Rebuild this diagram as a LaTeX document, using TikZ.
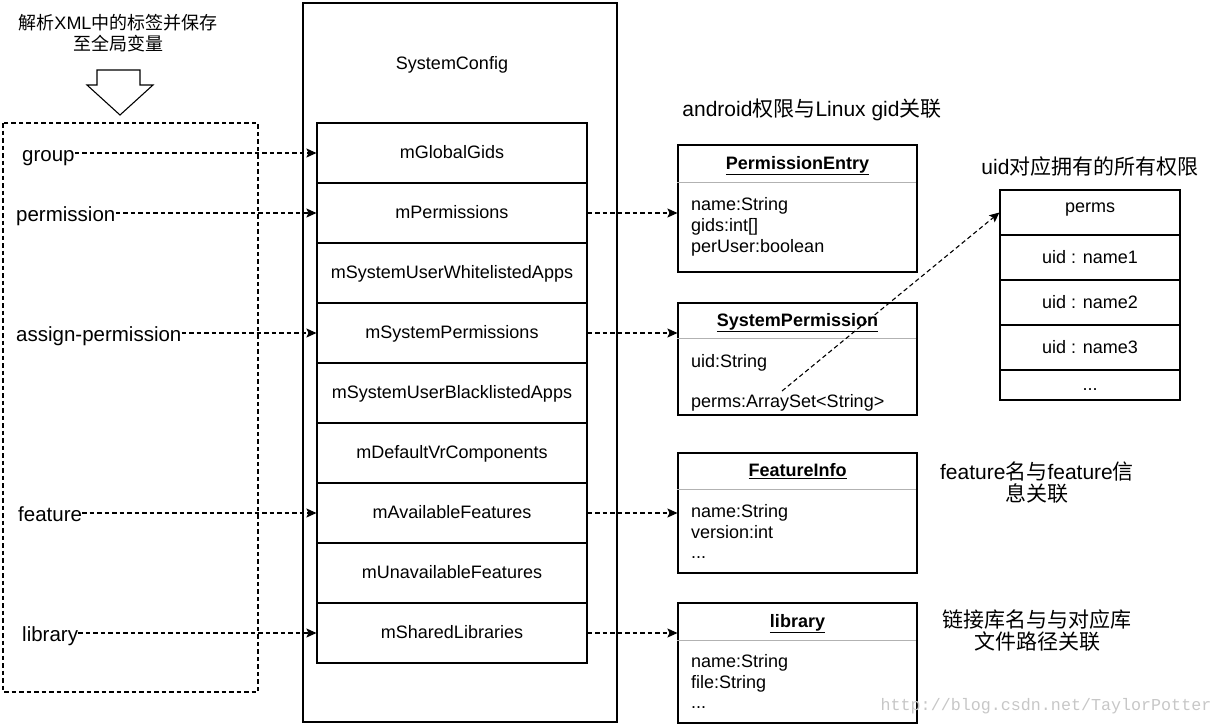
\documentclass[tikz,border=0pt]{standalone}
\usepackage{fontspec}
\setmainfont{Liberation Sans}
\newfontfamily\cjk{Noto Sans CJK SC}
\newfontfamily\wmfont{Liberation Mono}
\usetikzlibrary{arrows.meta}
\begin{document}
\begin{tikzpicture}[x=1pt,y=-1pt]
    \tikzstyle{box}=[draw, line width=1.1pt, inner sep=0pt]
    \tikzstyle{field}=[box, minimum width=270pt, minimum height=60pt, text height=14pt, text depth=3pt, font=\fontsize{18}{21}\selectfont]
    \tikzstyle{cell}=[box, minimum width=180pt, minimum height=45pt, text height=14pt, text depth=3pt, font=\fontsize{18}{21}\selectfont]
    \tikzstyle{cls}=[box, minimum width=239pt]
    \tikzstyle{lbl}=[inner sep=0pt, anchor=west, text height=18pt, text depth=1pt, font=\fontsize{20.5}{24}\selectfont]
    \tikzstyle{txt}=[inner sep=0pt, text height=14pt, text depth=3pt, font=\fontsize{18}{21}\selectfont]
    \tikzstyle{head}=[txt, font=\fontsize{18}{21}\selectfont\bfseries]
    \tikzstyle{note}=[inner sep=0pt, align=center, font=\fontsize{21}{22}\selectfont]
    \tikzstyle{sep}=[line width=1.3pt, black!30]
    \tikzstyle{dashline}=[line width=1.1pt, dash pattern=on 4.5pt off 3pt]
    \tikzstyle{link}=[dashline, -{Stealth[length=10pt,width=9pt,inset=2pt]}]

    \useasboundingbox (0,0) rectangle (1221,726);

    \node[note, font=\fontsize{18}{21}\selectfont] (parse) at (118,33) {{\cjk 解析}XML{\cjk 中的标签并保存}\\{\cjk 至全局变量}};
    \draw[line width=1.1pt] (97,70) -- (140,70) -- (140,85) -- (153,85) -- (120,115) -- (87,85) -- (97,85) -- cycle;
    \draw[dashline] (3,123) rectangle (258,692);

    \node[lbl] (l_group) at (22,153) {group};
    \node[lbl] (l_perm) at (16,213) {permission};
    \node[lbl] (l_assign) at (16,333) {assign-permission};
    \node[lbl] (l_feature) at (18,513) {feature};
    \node[lbl] (l_library) at (22,633) {library};

    \node[box, minimum width=314pt, minimum height=719pt] (sys) at (460,362.5) {};
    \node[txt] (sys_t) at (452,64) {SystemConfig};
    \foreach \f [count=\i] in {mGlobalGids,mPermissions,mSystemUserWhitelistedApps,mSystemPermissions,mSystemUserBlacklistedApps,mDefaultVrComponents,mAvailableFeatures,mUnavailableFeatures,mSharedLibraries}
        \node[field] (f_\i) at (452,93+60*\i) {\f};

    \draw[link] (l_group.east) -- (f_1.west);
    \draw[link] (l_perm.east) -- (f_2.west);
    \draw[link] (l_assign.east) -- (f_4.west);
    \draw[link] (l_feature.east) -- (f_7.west);
    \draw[link] (l_library.east) -- (f_9.west);

    % PermissionEntry
    \node[cls, minimum height=127pt] (pe) at (797.5,208.5) {};
    \node[head] (pe_h) at (797.5,164) {\underline{PermissionEntry}};
    \draw[sep] (pe.west |- pe_h.south) ++(0,10) -- ++(239,0);
    \node[txt, anchor=west] (pe_1) at (691,205) {name:String};
    \node[txt, anchor=west] (pe_2) at (691,226) {gids:int[]};
    \node[txt, anchor=west] (pe_3) at (691,247) {perUser:boolean};

    % SystemPermission
    \node[cls, minimum height=112pt] (sp) at (797.5,359) {};
    \node[head] (sp_h) at (797.5,321) {\underline{SystemPermission}};
    \draw[sep] (sp.west |- sp_h.south) ++(0,9) -- ++(239,0);
    \node[txt, anchor=west] (sp_1) at (691,362) {uid:String};
    \node[txt, anchor=west] (sp_2) at (691,402) {perms:ArraySet<String>};

    % FeatureInfo
    \node[cls, minimum height=120pt] (fi) at (797.5,513) {};
    \node[head] (fi_h) at (797.5,471) {\underline{FeatureInfo}};
    \draw[sep] (fi.west |- fi_h.south) ++(0,10) -- ++(239,0);
    \node[txt, anchor=west] (fi_1) at (691,512) {name:String};
    \node[txt, anchor=west] (fi_2) at (691,533) {version:int};
    \node[txt, anchor=west] (fi_3) at (691,553) {...};

    % library
    \node[cls, minimum height=120pt] (lib) at (797.5,663) {};
    \node[head] (lib_h) at (797.5,622) {\underline{library}};
    \draw[sep] (lib.west |- lib_h.south) ++(0,10) -- ++(239,0);
    \node[txt, anchor=west] (lib_1) at (691,662) {name:String};
    \node[txt, anchor=west] (lib_2) at (691,683) {file:String};
    \node[txt, anchor=west] (lib_3) at (691,703) {...};

    \draw[link] (f_2.east) -- (f_2.east -| pe.west);
    \draw[link] (f_4.east) -- (f_4.east -| sp.west);
    \draw[link] (f_7.east) -- (f_7.east -| fi.west);
    \draw[link] (f_9.east) -- (f_9.east -| lib.west);

    % perms
    \node[cell] (p_0) at (1090,212.5) {};
    \node[txt] (p_0_t) at (1090,207) {perms};
    \node[cell] (p_1) at (1090,257.5) {uid : name1};
    \node[cell] (p_2) at (1090,302.5) {uid : name2};
    \node[cell] (p_3) at (1090,347.5) {uid : name3};
    \node[cell, minimum height=30pt] (p_4) at (1090,385) {...};
    \coordinate (perms_src) at (782,391);
    \draw[link] (perms_src) -- (p_0.west);

    \node[note] (n_pe) at (812,110) {android{\cjk 权限与}Linux gid{\cjk 关联}};
    \node[note] (n_perms) at (1090,167) {uid{\cjk 对应拥有的所有权限}};
    \node[note] (n_fi) at (1037,483) {feature{\cjk 名与}feature{\cjk 信}\\{\cjk 息关联}};
    \node[note] (n_lib) at (1037,631) {{\cjk 链接库名与与对应库}\\{\cjk 文件路径关联}};

    \node[inner sep=0pt, text=black!22, font=\wmfont\fontsize{16.7}{18}\selectfont] (wm) at (1046,706) {http://blog.csdn.net/TaylorPotter};
\end{tikzpicture}
\end{document}
